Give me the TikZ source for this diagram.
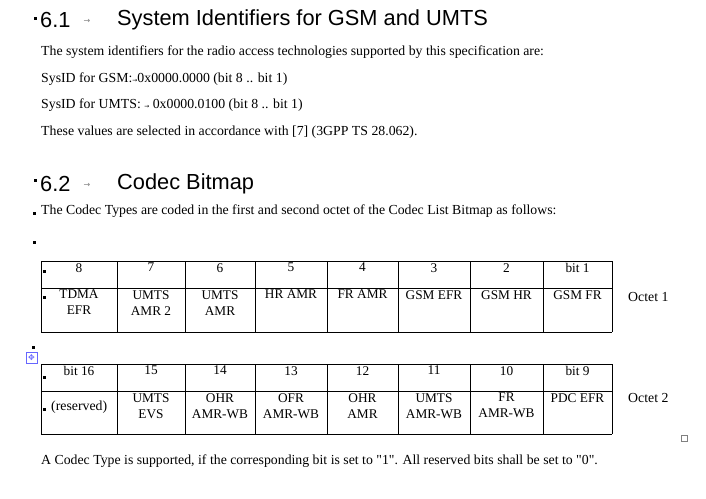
\documentclass[tikz,border=0pt]{standalone}
\usepackage{fontspec}
\setmainfont{Liberation Serif}[Ligatures={NoCommon,TeXOff}]
\newfontfamily\hfont{Liberation Sans}
\newfontfamily\sym{DejaVu Sans}
\begin{document}
\begin{tikzpicture}[x=1pt,y=-1pt,
  body/.style={anchor=west,inner sep=0pt,font=\fontsize{13.8}{14}\selectfont},
  head/.style={anchor=west,inner sep=0pt,font=\hfont\fontsize{21.8}{22}\selectfont},
  cell/.style={anchor=north,inner sep=0pt,align=center,font=\fontsize{13.3}{16}\selectfont},
  grid/.style={draw=black,line width=0.8pt}]
\useasboundingbox (0,0) rectangle (706,498);
\fill[white] (0,0) rectangle (706,498);
\fill (34,17) rectangle (37,20);
\node[head] (h1a) at (40,20) {6.1};
\node[inner sep=0pt,font=\sym\fontsize{8}{8}\selectfont,text=gray] (ar1) at (87,21) {→};
\node[head] (h1) at (117,20) {System Identifiers for GSM and UMTS};
\node[body] (p1) at (41,52) {The system identifiers for the radio access technologies supported by this specification are:};
\node[body] (p2) at (41,79) {SysID for GSM:{\sym\fontsize{6}{6}\selectfont →}0x0000.0000 (bit 8 .. bit 1)};
\node[body] (p3) at (41,105) {SysID for UMTS: {\sym\fontsize{6}{6}\selectfont →}\ 0x0000.0100 (bit 8 .. bit 1)};
\node[body] (p4) at (41,132) {These values are selected in accordance with [7] (3GPP TS 28.062).};
\fill (34,179) rectangle (37,182);
\node[head] (h2a) at (40,184) {6.2};
\node[inner sep=0pt,font=\sym\fontsize{8}{8}\selectfont,text=gray] (ar2) at (87,185) {→};
\node[head] (h2) at (117,184) {Codec Bitmap};
\fill (33,212) rectangle (36,215);
\node[body] (p5) at (41,211) {The Codec Types are coded in the first and second octet of the Codec List Bitmap as follows:};
\fill (33,241) rectangle (36,244);
\fill (43,270) rectangle (46,273);
\fill (43,296) rectangle (46,299);
\fill (32,346) rectangle (35,349);
\fill (43,376) rectangle (46,379);
\fill (43,408) rectangle (46,411);
\foreach \y in {261,288,332} \draw[grid] (41,\y) -- (612,\y);
\foreach \y in {364,391,434} \draw[grid] (41,\y) -- (612,\y);
\foreach \x in {41,117,185,255,327,398,470,543,612} {
  \draw[grid] (\x,261) -- (\x,332);
  \draw[grid] (\x,364) -- (\x,434);}
\foreach \a/\b/\t/\u [count=\i] in {41/117/8/TDMA\\EFR, 117/185/7/UMTS\\AMR 2, 185/255/6/UMTS\\AMR, 255/327/5/HR AMR, 327/398/4/FR AMR, 398/470/3/GSM EFR, 470/543/2/GSM HR, 543/612/bit 1/GSM FR} {
  \node[cell] (ta\i) at ({(\a+\b)/2},263) {\t};
  \node[cell] (tb\i) at ({(\a+\b)/2},290) {\u};}
\foreach \a/\b/\t/\u [count=\i] in {41/117/bit 16/{}, 117/185/15/UMTS\\EVS, 185/255/14/OHR\\AMR-WB, 255/327/13/OFR\\AMR-WB, 327/398/12/OHR\\AMR, 398/470/11/UMTS\\AMR-WB, 470/543/10/FR\\AMR-WB, 543/612/bit 9/PDC EFR} {
  \node[cell] (tc\i) at ({(\a+\b)/2},366) {\t};
  \node[cell] (td\i) at ({(\a+\b)/2},393) {\u};}
\node[body] (res) at (51,407) {(reserved)};
\node[body] (o1) at (628,297) {Octet 1};
\node[body] (o2) at (628,398) {Octet 2};
\draw[line width=0.4pt,blue!60] (26,352) rectangle (37,363);
\node[inner sep=0pt,text=blue!60,font=\sym\fontsize{8}{8}\selectfont] (mv) at (31.5,357.5) {✥};
\draw[line width=0.4pt,gray] (681,435) rectangle (687,441);
\node[body] (p6) at (41,461) {A Codec Type is supported, if the corresponding bit is set to "1". All reserved bits shall be set to "0".};
\end{tikzpicture}
\end{document}
